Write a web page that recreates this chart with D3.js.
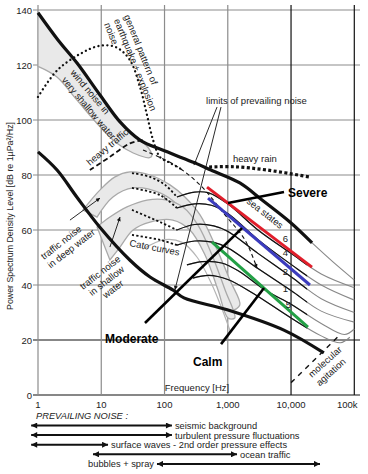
<!DOCTYPE html>
<html>
<head>
<meta charset="utf-8">
<script src="https://cdn.jsdelivr.net/npm/d3@7"></script>
<style>
  body { margin: 0; background: #fff; }
  text { font-family: "Liberation Sans", Arial, sans-serif; fill: #222; }
</style>
</head>
<body>
<div id="chart"></div>
<script>
// axis ticks
var yTicks = [0, 20, 40, 60, 80, 100, 120, 140];
var xTicks = [1, 10, 100, 1000, 10000, 100000];
var xTickLabels = ["1", "10", "100", "1,000", "10,000", "100k"];

// limits of prevailing noise  [frequency Hz, dB]
var upperLimit = [[1, 139], [2.07, 129.1], [4.14, 120.7], [9.54, 109.1], [19.8, 99.3], [40.9, 92.7],
  [102, 88.7], [302, 84.4], [541, 81.8], [1550, 77.1], [3480, 70.9], [9590, 62.9], [21500, 55.3]];
var upperTail = [[21500, 55.3], [46000, 48.4], [100000, 41.8]];
var lowerLimit = [[1, 88.4], [2, 81.8], [4.1, 72], [9.5, 61], [28.5, 49], [59, 42.9], [135, 38.2],
  [203, 35.3], [980, 31], [7700, 23.6], [33000, 15.3]];
var molecular = [[10000, 4.5], [54000, 21]];

// wind noise in very shallow water (shaded)
var windShallow = [[1, 139], [2.07, 129.1], [4.14, 120.7], [9.54, 109.1], [19.8, 99.3], [40.9, 92.7],
  [55, 90], [63, 87], [58, 86.3], [32, 88], [17.5, 91.6], [9.5, 97.6], [4.1, 107.3], [1.97, 115.7], [1, 119.5]];

// traffic noise arches
var deepUpper = [[5.15, 67.3], [9.5, 74.5], [16.5, 79.3], [28.5, 81.1], [59, 80], [122, 76.4], [210, 72],
  [364, 65.5], [630, 54.5], [1080, 41.8], [1550, 32.7]];
var deepLower = [[8.57, 64.7], [15.3, 72], [31.8, 75.3], [84.8, 73.5], [163, 69.1], [302, 61.8],
  [523, 50.9], [810, 40], [1160, 30.9]];
var shallowUpper = [[8.57, 61.1], [13.7, 64.7], [25.5, 68.4], [52.8, 70.9], [109, 70.9], [195, 68.4],
  [338, 61.8], [563, 50.9], [907, 38.2], [1290, 28]];
var shallowLower = [[13.7, 49.1], [19.8, 53.8], [31.8, 60], [59, 62.9], [135, 63.6], [252, 60],
  [437, 50.9], [700, 38.2], [1010, 28]];
var trafficExtra = [[45, 53], [100, 56.5], [190, 55.5], [330, 50], [540, 41], [820, 31], [1100, 23]];

// Cato curves (dotted)
var cato1 = [[30.6, 80.7], [59, 79.3], [102, 76.4], [157, 72]];
var cato2 = [[30.6, 75.3], [84.8, 72.7], [157, 68]];
var cato3 = [[30.6, 67.3], [84.8, 62.9], [157, 60]];
var cato4 = [[30.6, 58.2], [84.8, 56.4], [157, 54.5]];

// sea state curves
var sea1 = [[157, 72], [300, 73.8], [500, 73.5], [1000, 69.5], [3000, 60], [10000, 51.5], [30000, 44], [100000, 39]];
var sea2 = [[157, 68], [300, 69.5], [550, 69], [1000, 66], [3000, 56.5], [10000, 47.5], [30000, 40], [100000, 34.5]];
var sea3 = [[157, 60], [300, 62], [600, 61.5], [1000, 59.5], [3000, 51.5], [10000, 43], [30000, 35], [100000, 30]];
var sea4 = [[157, 54.5], [300, 56], [600, 55.5], [1000, 53.5], [3000, 46], [10000, 38], [30000, 30.5], [100000, 26.5]];
var sea5 = [[226, 47.3], [400, 48.5], [800, 48], [1500, 45], [4000, 38], [10000, 33], [30000, 26], [70000, 22], [100000, 24]];
var sea6 = [[280, 42.5], [500, 43.5], [1000, 42], [2500, 37], [10000, 28], [30000, 21.5], [60000, 19], [85000, 21]];

// other noise sources
var earthquake = [[1, 108.4], [2, 118], [4.6, 124], [9.5, 127], [17, 126.5], [28, 122], [41, 112], [52, 102.5],
  [66, 92.7], [85, 86.5], [120, 84.5], [190, 82]];
var heavyTraffic = [[6.6, 81.8], [13.5, 86.5], [28.5, 91.5], [45.7, 92.7]];
var heavyRain = [[507, 82.9], [1260, 83], [4200, 81.8], [19200, 79.3]];
var dashedLimit = [[45.7, 89.1], [146, 83.6], [364, 76.4], [903, 65.5], [1870, 56.4], [2890, 46.2]];

// sea state lines
var severeLine = [[470, 75.6], [21400, 46.5]];
var moderateLine = [[487, 71.6], [19900, 40]];
var calmLine = [[565, 55.6], [18500, 24.7]];

// pointers to the sea state lines
var severePointer = [[7740, 73.8], [1008, 69.8]];
var moderatePointer = [[49.1, 26.2], [1680, 60.7]];
var calmPointer = [[782, 18.5], [3740, 38.9]];

// prevailing noise ranges
var prevLabels = ["seismic background", "turbulent pressure fluctuations",
  "surface waves - 2nd order pressure effects", "ocean traffic", "bubbles + spray"];
var prevFrom = [0.78, 0.78, 0.78, 7.4, 76];
var prevTo = [131, 131, 12.8, 1400, 28700];

var width = 368, height = 474;
var svg = d3.select("#chart").append("svg").attr("width", width).attr("height", height);

var x = d3.scaleLog().domain([1, 100000]).range([38, 354.3]);
var y = d3.scaleLinear().domain([0, 140]).range([395, 10]);
var line = d3.line().x(function (d) { return x(d[0]); }).y(function (d) { return y(d[1]); })
  .curve(d3.curveCatmullRom.alpha(0.5));
var straight = d3.line().x(function (d) { return x(d[0]); }).y(function (d) { return y(d[1]); });

var defs = svg.append("defs");
function arrowMarker(id, len, w) {
  defs.append("marker").attr("id", id).attr("markerUnits", "userSpaceOnUse")
    .attr("viewBox", "0 0 10 10").attr("refX", 10).attr("refY", 5)
    .attr("markerWidth", len).attr("markerHeight", w).attr("orient", "auto-start-reverse")
    .append("path").attr("d", "M0,0L10,5L0,10z").attr("fill", "#111");
}
arrowMarker("bigArrow", 10, 6);
arrowMarker("thinArrow", 6, 4);
defs.append("clipPath").attr("id", "blackPart").append("rect")
  .attr("x", 0).attr("y", 0).attr("width", x(18000)).attr("height", height);

// grid
svg.selectAll(".hgrid").data(yTicks).enter().append("line")
  .attr("x1", 33).attr("x2", 360)
  .attr("y1", function (d) { return y(d); }).attr("y2", function (d) { return y(d); })
  .attr("stroke", function (d) { return d <= 20 ? "#111" : "#8c8c8c"; })
  .attr("stroke-width", 1.2);
svg.selectAll(".vgrid").data(xTicks).enter().append("line")
  .attr("x1", function (d) { return x(d); }).attr("x2", function (d) { return x(d); })
  .attr("y1", y(140) - 5).attr("y2", y(0))
  .attr("stroke", function (d) { return d >= 10000 ? "#111" : "#8c8c8c"; })
  .attr("stroke-width", 1.2);

svg.selectAll(".ylab").data(yTicks).enter().append("text")
  .attr("x", 32).attr("y", function (d) { return y(d) + 3.5; })
  .attr("text-anchor", "end").style("font-size", "9.5px").text(function (d) { return d; });
svg.selectAll(".xlab").data(xTicks).enter().append("text")
  .attr("x", function (d, i) { return x(d) + (i === xTicks.length - 1 ? -7 : 0); })
  .attr("y", 408).attr("text-anchor", "middle").style("font-size", "9.5px")
  .text(function (d, i) { return xTickLabels[i]; });

svg.append("text").attr("x", 197).attr("y", 391).attr("text-anchor", "middle")
  .style("font-size", "9.5px").text("Frequency [Hz]");
svg.append("text").attr("transform", "translate(13," + 216 + ") rotate(-90)")
  .attr("text-anchor", "middle").style("font-size", "8.8px")
  .text("Power Spectrum Density Level [dB re 1\u00b5Pa\u00b2/Hz]");

// shaded regions
var shade = "#e9e9e9", shadeLine = "#a9a9a9";
svg.append("path").attr("d", line(windShallow) + "Z")
  .attr("fill", shade).attr("stroke", shadeLine).attr("stroke-width", 1.3);
svg.append("path").attr("d", line(deepUpper.concat(deepLower.slice().reverse())) + "Z")
  .attr("fill", shade).attr("stroke", shadeLine).attr("stroke-width", 1.3);
svg.append("path").attr("d", line(shallowUpper.concat(shallowLower.slice().reverse())) + "Z")
  .attr("fill", shade).attr("stroke", shadeLine).attr("stroke-width", 1.3);
svg.append("path").attr("d", line(trafficExtra)).attr("fill", "none")
  .attr("stroke", "#b5b5b5").attr("stroke-width", 1.2);

// sea state curves: grey everywhere, black below ~20 kHz
var seaCurves = [sea1, sea2, sea3, sea4, sea5, sea6];
svg.selectAll(".seaGrey").data(seaCurves).enter().append("path")
  .attr("d", line).attr("fill", "none").attr("stroke", "#888").attr("stroke-width", 1.1);
svg.selectAll(".seaBlack").data(seaCurves).enter().append("path")
  .attr("d", line).attr("fill", "none").attr("stroke", "#111").attr("stroke-width", 1.2)
  .attr("clip-path", "url(#blackPart)");

// Cato curves
svg.selectAll(".cato").data([cato1, cato2, cato3, cato4]).enter().append("path")
  .attr("d", line).attr("fill", "none").attr("stroke", "#111").attr("stroke-width", 1.8)
  .attr("stroke-dasharray", "2.2,2.2");

// other dashed / dotted curves
svg.append("path").attr("d", line(earthquake)).attr("fill", "none").attr("stroke", "#111")
  .attr("stroke-width", 2.3).attr("stroke-linecap", "round").attr("stroke-dasharray", "0.1,4.4");
svg.append("path").attr("d", line(heavyTraffic)).attr("fill", "none").attr("stroke", "#111")
  .attr("stroke-width", 1.8).attr("stroke-dasharray", "5,3");
svg.append("path").attr("d", line(heavyRain)).attr("fill", "none").attr("stroke", "#111")
  .attr("stroke-width", 3.2).attr("stroke-dasharray", "3,2.4");
svg.append("path").attr("d", line(dashedLimit)).attr("fill", "none").attr("stroke", "#111")
  .attr("stroke-width", 1.1).attr("stroke-dasharray", "4,3").attr("marker-end", "url(#thinArrow)");
svg.append("path").attr("d", straight(molecular)).attr("fill", "none").attr("stroke", "#111")
  .attr("stroke-width", 1.4).attr("stroke-dasharray", "5,5");

// limits of prevailing noise
svg.append("path").attr("d", line(upperLimit)).attr("fill", "none").attr("stroke", "#111").attr("stroke-width", 3.2);
svg.append("path").attr("d", line(upperTail)).attr("fill", "none").attr("stroke", "#888").attr("stroke-width", 1.1);
svg.append("path").attr("d", line(lowerLimit)).attr("fill", "none").attr("stroke", "#111").attr("stroke-width", 3.2);

// coloured sea state lines
svg.append("path").attr("d", straight(severeLine)).attr("stroke", "#e01e2b").attr("stroke-width", 3);
svg.append("path").attr("d", straight(moderateLine)).attr("stroke", "#3b3bbd").attr("stroke-width", 3);
svg.append("path").attr("d", straight(calmLine)).attr("stroke", "#22a045").attr("stroke-width", 3);

// pointer lines
[severePointer, moderatePointer, calmPointer].forEach(function (p) {
  svg.append("path").attr("d", straight(p)).attr("stroke", "#000").attr("stroke-width", 2.6);
});

// thin arrows
var thinArrows = [
  [[676, 104.7], [292, 83.6]],
  [[781, 104.7], [146, 38.2]],
  [[3.2, 63.6], [9.55, 71.6]],
  [[13.7, 53.8], [19.8, 64.7]]
];
thinArrows.forEach(function (a) {
  svg.append("path").attr("d", straight(a)).attr("stroke", "#111").attr("stroke-width", 0.9)
    .attr("marker-end", "url(#thinArrow)");
});

// annotation text, anchored in data coordinates
function label(f, db, angle, lines, opts) {
  opts = opts || {};
  var t = svg.append("text")
    .attr("transform", "translate(" + x(f) + "," + y(db) + ") rotate(" + angle + ")")
    .attr("text-anchor", opts.anchor || "start")
    .style("font-size", (opts.size || 9.5) + "px")
    .style("font-weight", opts.bold ? "bold" : null)
    .style("fill", opts.bold ? "#000" : null);
  lines.forEach(function (s, i) {
    t.append("tspan").attr("x", 0).attr("dy", i === 0 ? 0 : (opts.lh || 10.7)).text(s);
  });
}
label(22.7, 137.7, 68, ["general pattern of", "earthquake + explosion", "noise"]);
label(3.2, 117.1, 50, ["wind noise in", "very shallow water"], { lh: 11.5 });
label(6.64, 83.3, -40, ["heavy traffic"]);
label(1.24, 49.1, -38, ["traffic noise", "in deep water"], { lh: 11 });
label(10.3, 43.6, -38, ["traffic noise", "in shallow", "water"], { anchor: "middle", lh: 10.5 });
label(27.5, 54.2, 11, ["Cato curves"]);
label(453, 106, 0, ["limits of prevailing noise"]);
label(1210, 84.7, 0, ["heavy rain"]);
label(1940, 70, 38, ["sea states"]);
label(8170, 55.8, 0, ["6"], { anchor: "middle" });
label(8170, 50.4, 0, ["4"], { anchor: "middle" });
label(8170, 43.6, 0, ["2"], { anchor: "middle" });
label(8170, 37.6, 0, ["1"], { anchor: "middle" });
label(9120, 31.5, 0, ["5"], { anchor: "middle" });
label(21400, 6.2, -42, ["molecular", "agitation"], { lh: 11.5 });
label(8950, 72, 0, ["Severe"], { bold: true, size: 12 });
label(11.5, 18.9, 0, ["Moderate"], { bold: true, size: 12 });
label(282, 10.5, 0, ["Calm"], { bold: true, size: 12 });

// prevailing noise section
svg.append("text").attr("x", 36).attr("y", 419).style("font-size", "9.3px").style("font-style", "italic")
  .text("PREVAILING NOISE :");
var rowY = function (i) { return 425.5 + i * 9.6; };
prevLabels.forEach(function (lab, i) {
  svg.append("line").attr("x1", x(prevFrom[i])).attr("x2", x(prevTo[i]))
    .attr("y1", rowY(i)).attr("y2", rowY(i))
    .attr("stroke", "#111").attr("stroke-width", 2)
    .attr("marker-start", "url(#bigArrow)").attr("marker-end", "url(#bigArrow)");
  var before = i === prevLabels.length - 1;
  svg.append("text")
    .attr("x", before ? x(prevFrom[i]) - 3 : x(prevTo[i]) + 3)
    .attr("y", rowY(i) + 3.5)
    .attr("text-anchor", before ? "end" : "start")
    .style("font-size", "9.3px").text(lab);
});
</script>
</body>
</html>
